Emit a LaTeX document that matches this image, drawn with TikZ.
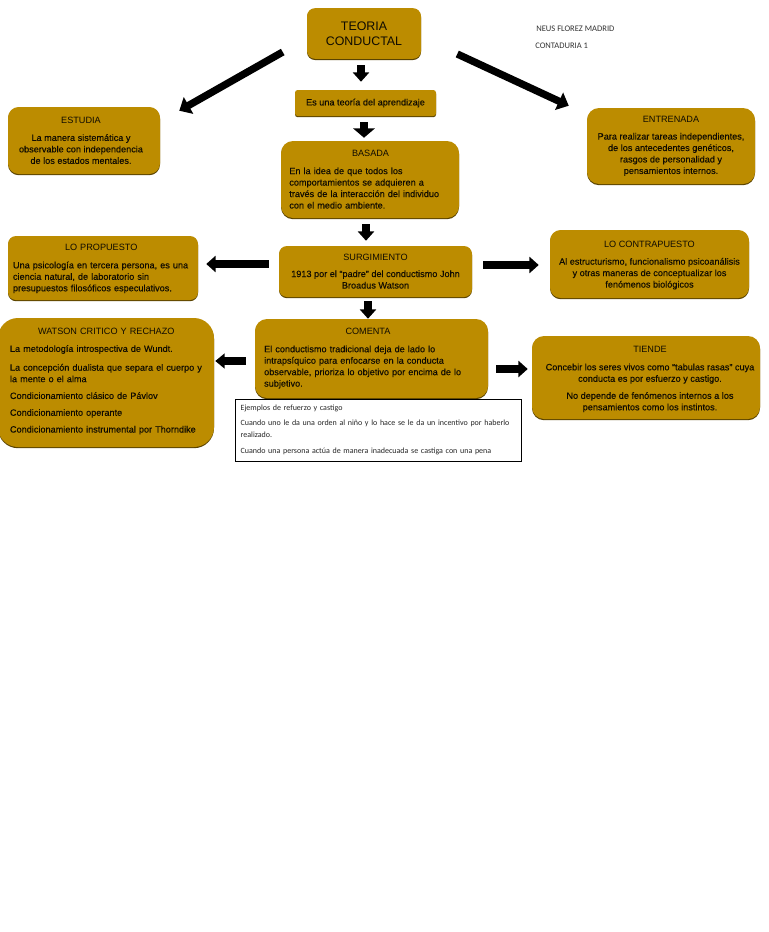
\documentclass[tikz,border=0pt]{standalone}
\usepackage{fontspec}
\setmainfont{Liberation Sans}
\newfontfamily\calfont{Carlito}
\newfontfamily\bodyf[FakeBold=0.15]{Liberation Sans}
\newcommand{\ttl}[1]{{\rmfamily #1}}
\usetikzlibrary{arrows.meta,shadows,calc}
\definecolor{gold}{HTML}{BC8C00}
\definecolor{goldshadow}{HTML}{5A4300}
\definecolor{ink}{HTML}{0F0B02}
\tikzset{
  x=0.75pt,y=-0.75pt,
  box/.style={fill=gold,draw=none,inner sep=0pt,align=center,text=ink,font=\bodyf\fontsize{6.85pt}{8.6pt}\selectfont,
    drop shadow={shadow xshift=0pt,shadow yshift=-0.9pt,fill=goldshadow,opacity=1}},
  blockarrow/.style={draw=black,line width=5.5pt,-{Triangle[length=7pt,width=12pt]}},
  plain/.style={inner sep=0pt,align=left,text=black!80,font=\calfont\fontsize{6.4pt}{9pt}\selectfont}
}
\begin{document}
\begin{tikzpicture}
\useasboundingbox (0,0) rectangle (768,932);
\fill[white] (0,0) rectangle (768,932);

\node[box,rounded corners=6pt,minimum width=85.5pt,minimum height=38pt,font=\rmfamily\fontsize{9.3pt}{11.2pt}\selectfont] (teoria) at (364,33.5) {TEORIA\\CONDUCTAL};
\node[box,rounded corners=2pt,minimum width=105.75pt,minimum height=19.5pt] (es) at (365.5,103) {Es una teoría del aprendizaje};
\node[box,rounded corners=9pt,minimum width=133.5pt,minimum height=57.75pt,text width=121pt,align=left] (basada) at (370,179.5) {\hspace*{47pt}\ttl{BASADA}\\[4.4pt]En la idea de que todos los\\comportamientos se adquieren a\\través de la interacción del individuo\\con el medio ambiente.};
\node[box,rounded corners=8pt,minimum width=114pt,minimum height=50.25pt] (estudia) at (84,140.5) {\hspace*{-4.5pt}\ttl{ESTUDIA}\\[4.5pt]\hspace*{-4.5pt}La manera sistemática y\\\hspace*{-4.5pt}observable con independencia\\\hspace*{-4.5pt}de los estados mentales.};
\node[box,rounded corners=9pt,minimum width=126pt,minimum height=57pt] (entrenada) at (671,146) {\ttl{ENTRENADA}\\[4.2pt]Para realizar tareas independientes,\\de los antecedentes genéticos,\\rasgos de personalidad y\\pensamientos internos.};
\node[box,rounded corners=6pt,minimum width=142.5pt,minimum height=48pt,text width=135pt,align=left] (propuesto) at (103,268) {\hspace*{39pt}\rule{0pt}{6pt}\ttl{LO PROPUESTO}\\[4.5pt]Una psicología en tercera persona, es una\\ciencia natural, de laboratorio sin\\presupuestos filosóficos especulativos.};
\node[box,rounded corners=6pt,minimum width=144.75pt,minimum height=38.25pt] (surg) at (375.5,271.5) {\ttl{SURGIMIENTO}\\[3.6pt]1913 por el “padre” del conductismo John\\Broadus Watson};
\node[box,rounded corners=8pt,minimum width=149.25pt,minimum height=51pt] (contra) at (649.5,264) {\rule{0pt}{6.5pt}\ttl{LO CONTRAPUESTO}\\[4.5pt]Al estructurismo, funcionalismo psicoanálisis\\y otras maneras de conceptualizar los\\fenómenos biológicos};
\node[box,rounded corners=15pt,minimum width=162pt,minimum height=96.75pt,text width=144pt,align=left] (watson) at (106,382.5) {\hspace*{21pt}\ttl{WATSON CRITICO Y RECHAZO}\\[4.2pt]La metodología introspectiva de Wundt.\\[5.5pt]La concepción dualista que separa el cuerpo y\\la mente o el alma\\[4pt]Condicionamiento clásico de Pávlov\\[4pt]Condicionamiento operante\\[4pt]Condicionamiento instrumental por Thorndike\rule[-3pt]{0pt}{3pt}};
\node[box,rounded corners=9pt,minimum width=174.75pt,minimum height=59.25pt,text width=161pt,align=left] (comenta) at (371.5,358.5) {\hspace*{61pt}\ttl{COMENTA}\\[5pt]El conductismo tradicional deja de lado lo\\intrapsíquico para enfocarse en la conducta\\observable, prioriza lo objetivo por encima de lo\\subjetivo.\rule[-2pt]{0pt}{2pt}};
\node[box,rounded corners=9pt,minimum width=171pt,minimum height=62.25pt] (tiende) at (646,377.5) {\hspace*{6pt}\rule{0pt}{7.5pt}\ttl{TIENDE}\\[4.5pt]\hspace*{6pt}Concebir los seres vivos como “tabulas rasas” cuya\\\hspace*{6pt}conducta es por esfuerzo y castigo.\\[4.2pt]\hspace*{6pt}No depende de fenómenos internos a los\\\hspace*{6pt}pensamientos como los instintos.};

\node[draw=black,line width=0.6pt,fill=white,minimum width=214.5pt,minimum height=46.5pt,text width=206pt,inner sep=0pt,align=left,text=black!85,font=\calfont\fontsize{6pt}{8.6pt}\selectfont] (ejemplos) at (378,430) {Ejemplos de refuerzo y castigo\\[3pt]Cuando uno le da una orden al niño y lo hace se le da un incentivo por haberlo\\realizado.\\[3.6pt]Cuando una persona actúa de manera inadecuada se castiga con una pena};

\node[plain,anchor=west] (autor) at (536,29) {NEUS FLOREZ MADRID};
\node[plain,anchor=west] (carrera) at (535,46) {CONTADURIA 1};

\draw[blockarrow,-{Triangle[length=8pt,width=14pt]}] ($(teoria.west)+(-24,18.5)$) -- ($(estudia.north east)+(19,4)$);
\draw[blockarrow,-{Triangle[length=8pt,width=14pt]}] ($(teoria.east)+(36,20.5)$) -- ($(entrenada.north west)+(-18,-2)$);
\draw[blockarrow] ($(teoria.south)+(-3,6)$) -- ($(es.north)+(-4.5,-8)$);
\draw[blockarrow,-{Triangle[length=7pt,width=16pt]}] ($(es.south)+(-1.5,6)$) -- ($(basada.north)+(-6,-3)$);
\draw[blockarrow] ($(basada.south)+(-4,6)$) -- ($(surg.north)+(-9.5,-5)$);
\draw[blockarrow,line width=6pt] ($(surg.west)+(-10,-7.5)$) -- ($(propuesto.east)+(8,-4)$);
\draw[blockarrow,line width=6pt] ($(surg.east)+(11,-6.5)$) -- ($(contra.west)+(-11,1)$);
\draw[blockarrow] ($(surg.south)+(-7.5,4)$) -- ($(comenta.north)+(-3.5,0)$);
\draw[blockarrow,line width=6pt,-{Triangle[length=7pt,width=11pt]}] ($(comenta.west)+(-9,2.5)$) -- ($(watson.east)+(1,-21.5)$);
\draw[blockarrow] ($(comenta.east)+(8,10.5)$) -- ($(tiende.west)+(-4,-8.5)$);
\end{tikzpicture}
\end{document}
